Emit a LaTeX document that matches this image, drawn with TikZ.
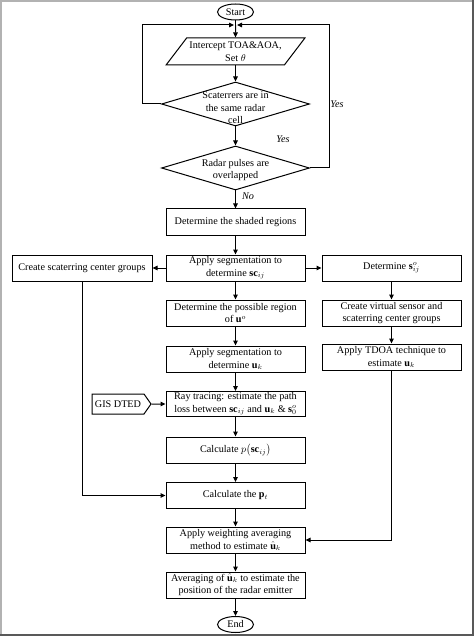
\documentclass[tikz,border=0pt]{standalone}
\usepackage{fontspec}
\setmainfont{Liberation Serif}
\usepackage{amsmath}
\usetikzlibrary{shapes.geometric,shapes.symbols,arrows.meta}

\begin{document}
\begin{tikzpicture}[x=1pt, y=-1pt, line width=1pt,
  >={Triangle[length=5pt,width=4.5pt]},
  every node/.style={font=\fontsize{10.2}{12.5}\selectfont, align=center},
  procbox/.style={draw, rectangle, minimum width=139pt, minimum height=26pt, inner sep=1pt},
  termnode/.style={draw, ellipse, minimum width=36pt, minimum height=16pt, inner sep=0pt},
  decision/.style={draw, diamond, minimum width=148pt, minimum height=44pt, inner sep=0pt},
  iobox/.style={draw, trapezium, trapezium left angle=45, trapezium right angle=135,
    trapezium stretches=true, minimum width=139pt, minimum height=27pt, inner sep=0pt},
  datain/.style={draw, signal, signal to=east, signal pointer angle=110,
    minimum width=59pt, minimum height=20pt, inner sep=1pt},
  answer/.style={font=\itshape\fontsize{10.2}{12}\selectfont}]

\useasboundingbox (0,0) rectangle (474,636);

% frame
\fill [gray!60] (0,0) rectangle (474,2);
\fill [gray!60] (0,0) rectangle (2,636);
\fill [black!65] (471.5,0) rectangle (474,636);
\fill [black!65] (0,633.5) rectangle (474,636);

\def\colmain{235.5}
\def\colleft{82}
\def\colright{391.5}

% main column
\node [termnode] (start) at (\colmain,12) {Start};
\coordinate (merge) at (\colmain,25);
\node [iobox] (intercept) at (\colmain,51.5) {Intercept TOA\&AOA,\\Set $\theta$};
\node [decision, label={[yshift=-4pt, align=center]center:Scaterrers are in\\the same radar\\cell}] (samecell) at (\colmain,104) {};
\node [decision, label={[yshift=-2pt, align=center]center:Radar pulses are\\overlapped}] (overlap) at (\colmain,168) {};
\node [procbox] (shaded) at (\colmain,222) {Determine the shaded regions};
\node [procbox] (segsc) at (\colmain,268) {Apply segmentation to\\determine $\mathbf{sc}_{ij}$};
\node [procbox] (region) at (\colmain,313) {Determine the possible region\\of $\mathbf{u}^{o}$};
\node [procbox] (segu) at (\colmain,359) {Apply segmentation to\\determine $\mathbf{u}_{k}$};
\node [procbox, minimum height=25pt] (raytr) at (\colmain,404) {Ray tracing: estimate the path\\loss between $\mathbf{sc}_{ij}$ and $\mathbf{u}_{k}$ \& $\mathbf{s}^{o}_{0}$};
\node [procbox] (calcp) at (\colmain,450) {Calculate $p\big(\mathbf{sc}_{ij}\big)$};
\node [procbox] (calcpt) at (\colmain,495.5) {Calculate the $\mathbf{p}_{t}$};
\node [procbox] (weight) at (\colmain,540) {Apply weighting averaging\\method to estimate $\hat{\mathbf{u}}_{k}$};
\node [procbox] (average) at (\colmain,585) {Averaging of $\hat{\mathbf{u}}_{k}$ to estimate the\\position of the radar emitter};
\node [termnode] (end) at (\colmain,624.5) {End};

% side columns
\node [procbox, minimum width=140pt] (groups) at (\colleft,268) {Create scaterring center groups};
\node [datain] (gis) at (118,404) {GIS DTED};
\node [procbox] (detso) at (\colright,268) {Determine $\mathbf{s}^{o}_{ij}$};
\node [procbox] (virtual) at (\colright,313) {Create virtual sensor and\\scaterring center groups};
\node [procbox] (tdoa) at (\colright,357) {Apply TDOA technique to\\estimate $\mathbf{u}_{k}$};

% answers
\node [answer] (yesright) at (337,104) {Yes};
\node [answer] (yesdown) at (283,139) {Yes};
\node [answer] (nodown) at (248,196) {No};

% connectors
\draw (start) -- (merge);
\draw [->] (merge) -- (intercept);
\draw [->] (intercept) -- (samecell);
\draw [->] (samecell.west) -- ++(-19,0) |- ([xshift=-1.5pt]merge);
\draw [->] (overlap.east) -- ++(19,0) |- ([xshift=1.5pt]merge);
\draw [->] (samecell) -- (overlap);
\draw [->] (overlap) -- (shaded);
\draw [->] (shaded) -- (segsc);
\draw [->] (segsc) -- (groups);
\draw [->] (segsc) -- (detso);
\draw [->] (segsc) -- (region);
\draw [->] (region) -- (segu);
\draw [->] (segu) -- (raytr);
\draw [->] (gis) -- (raytr);
\draw [->] (raytr) -- (calcp);
\draw [->] (calcp) -- (calcpt);
\draw [->] (calcpt) -- (weight);
\draw [->] (weight) -- (average);
\draw [->] (average) -- (end);
\draw [->] (detso) -- (virtual);
\draw [->] (virtual) -- (tdoa);
\draw [->] (groups.south) |- (calcpt);
\draw [->] (tdoa.south) |- (weight);

\end{tikzpicture}
\end{document}
